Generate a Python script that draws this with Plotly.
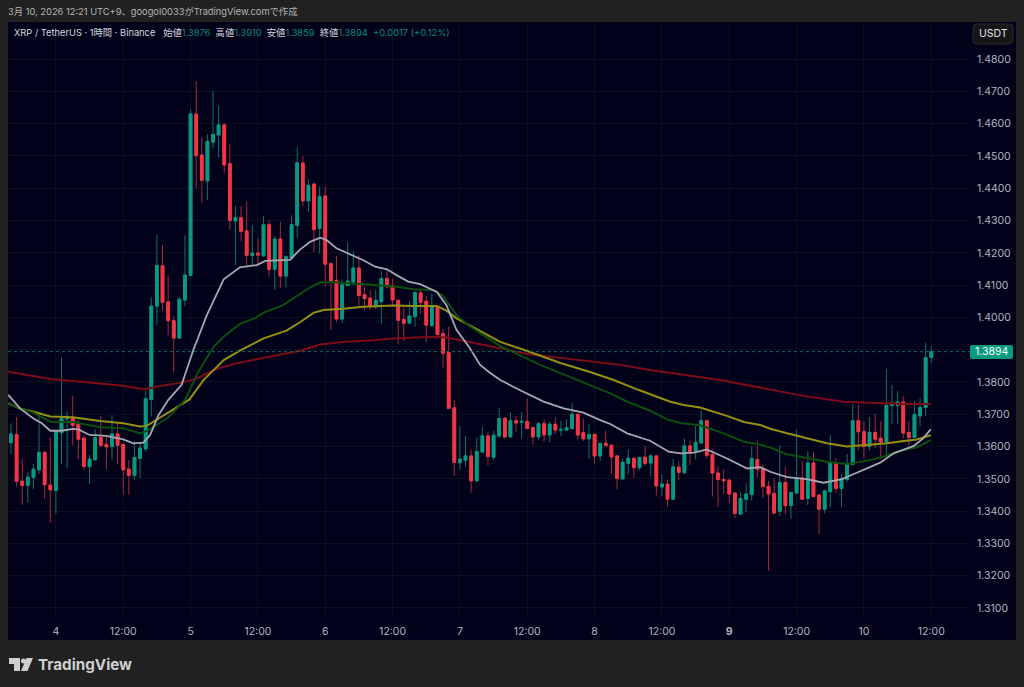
import pandas as pd
import plotly.graph_objects as go

opens = [1.3612, 1.3637, 1.3493, 1.3480, 1.3505, 1.3528, 1.3582, 1.3481, 1.3464, 1.3643,
         1.3686, 1.3691, 1.3670, 1.3626, 1.3538, 1.3559, 1.3628, 1.3607, 1.3600, 1.3639,
         1.3606, 1.3530, 1.3511, 1.3564, 1.3593, 1.3746, 1.4035, 1.4160, 1.4048, 1.3990,
         1.3936, 1.4054, 1.4130, 1.4630, 1.4503, 1.4423, 1.4543, 1.4565, 1.4596, 1.4476,
         1.4299, 1.4309, 1.4268, 1.4192, 1.4199, 1.4191, 1.4287, 1.4149, 1.4243, 1.4128,
         1.4183, 1.4285, 1.4478, 1.4361, 1.4413, 1.4276, 1.4376, 1.4167, 1.4115, 1.3995,
         1.4099, 1.4109, 1.4153, 1.4070, 1.4060, 1.4033, 1.4049, 1.4120, 1.4098, 1.4053,
         1.3994, 1.3983, 1.4003, 1.4076, 1.4050, 1.3975, 1.4031, 1.3950, 1.3891, 1.3720,
         1.3550, 1.3558, 1.3571, 1.3494, 1.3583, 1.3633, 1.3567, 1.3633, 1.3688, 1.3630,
         1.3680, 1.3675, 1.3678, 1.3659, 1.3630, 1.3671, 1.3636, 1.3669, 1.3651, 1.3651,
         1.3656, 1.3700, 1.3643, 1.3624, 1.3638, 1.3571, 1.3610, 1.3604, 1.3571, 1.3500,
         1.3548, 1.3564, 1.3535, 1.3567, 1.3549, 1.3571, 1.3475, 1.3484, 1.3437, 1.3536,
         1.3519, 1.3602, 1.3585, 1.3611, 1.3680, 1.3575, 1.3518, 1.3498, 1.3496, 1.3456,
         1.3391, 1.3437, 1.3451, 1.3560, 1.3533, 1.3477, 1.3455, 1.3400, 1.3489, 1.3417,
         1.3456, 1.3503, 1.3439, 1.3549, 1.3450, 1.3406, 1.3460, 1.3548, 1.3470, 1.3498,
         1.3545, 1.3680, 1.3646, 1.3600, 1.3644, 1.3626, 1.3614, 1.3727, 1.3728, 1.3738,
         1.3644, 1.3628, 1.3695, 1.3721, 1.3876]
closes = [1.3639, 1.3492, 1.3479, 1.3505, 1.3530, 1.3582, 1.3482, 1.3466, 1.3646, 1.3687,
          1.3691, 1.3666, 1.3623, 1.3538, 1.3561, 1.3628, 1.3604, 1.3599, 1.3639, 1.3604,
          1.3528, 1.3511, 1.3566, 1.3595, 1.3748, 1.4035, 1.4161, 1.4047, 1.3990, 1.3936,
          1.4056, 1.4131, 1.4630, 1.4501, 1.4425, 1.4545, 1.4567, 1.4596, 1.4472, 1.4300,
          1.4309, 1.4267, 1.4192, 1.4199, 1.4193, 1.4287, 1.4149, 1.4243, 1.4128, 1.4188,
          1.4287, 1.4479, 1.4361, 1.4409, 1.4272, 1.4374, 1.4165, 1.4112, 1.3995, 1.4101,
          1.4112, 1.4153, 1.4068, 1.4058, 1.4033, 1.4053, 1.4120, 1.4095, 1.4054, 1.3991,
          1.3982, 1.4004, 1.4077, 1.4047, 1.3976, 1.4033, 1.3947, 1.3889, 1.3718, 1.3551,
          1.3561, 1.3571, 1.3494, 1.3585, 1.3633, 1.3569, 1.3635, 1.3687, 1.3630, 1.3680,
          1.3673, 1.3678, 1.3656, 1.3630, 1.3671, 1.3636, 1.3669, 1.3651, 1.3653, 1.3658,
          1.3700, 1.3636, 1.3624, 1.3637, 1.3571, 1.3610, 1.3603, 1.3568, 1.3501, 1.3551,
          1.3564, 1.3535, 1.3566, 1.3548, 1.3571, 1.3478, 1.3484, 1.3437, 1.3537, 1.3520,
          1.3602, 1.3585, 1.3613, 1.3680, 1.3573, 1.3518, 1.3498, 1.3494, 1.3453, 1.3393,
          1.3439, 1.3453, 1.3563, 1.3530, 1.3476, 1.3453, 1.3394, 1.3489, 1.3417, 1.3458,
          1.3503, 1.3437, 1.3549, 1.3445, 1.3406, 1.3463, 1.3551, 1.3470, 1.3500, 1.3547,
          1.3680, 1.3646, 1.3600, 1.3644, 1.3623, 1.3614, 1.3728, 1.3733, 1.3738, 1.3642,
          1.3628, 1.3699, 1.3721, 1.3876, 1.3894]
highs = [1.3672, 1.3691, 1.3563, 1.3521, 1.3546, 1.3705, 1.3587, 1.3629, 1.3648, 1.3876,
         1.3709, 1.3757, 1.3682, 1.3633, 1.3574, 1.3653, 1.3695, 1.3631, 1.3697, 1.3676,
         1.3612, 1.3558, 1.3616, 1.3612, 1.3771, 1.4062, 1.4256, 1.4223, 1.4130, 1.4004,
         1.4064, 1.4254, 1.4644, 1.4732, 1.4558, 1.4567, 1.4701, 1.4656, 1.4603, 1.4537,
         1.4345, 1.4345, 1.4361, 1.4287, 1.4245, 1.4314, 1.4302, 1.4252, 1.4296, 1.4193,
         1.4316, 1.4527, 1.4500, 1.4428, 1.4417, 1.4405, 1.4405, 1.4169, 1.4190, 1.4118,
         1.4233, 1.4205, 1.4192, 1.4095, 1.4085, 1.4085, 1.4144, 1.4147, 1.4120, 1.4056,
         1.4031, 1.4050, 1.4083, 1.4085, 1.4066, 1.4074, 1.4035, 1.3963, 1.3971, 1.3744,
         1.3664, 1.3633, 1.3591, 1.3627, 1.3662, 1.3645, 1.3649, 1.3721, 1.3690, 1.3707,
         1.3695, 1.3707, 1.3749, 1.3662, 1.3677, 1.3684, 1.3677, 1.3692, 1.3680, 1.3685,
         1.3734, 1.3703, 1.3685, 1.3669, 1.3638, 1.3610, 1.3649, 1.3607, 1.3571, 1.3563,
         1.3591, 1.3564, 1.3569, 1.3602, 1.3577, 1.3573, 1.3515, 1.3498, 1.3562, 1.3553,
         1.3625, 1.3618, 1.3663, 1.3711, 1.3682, 1.3591, 1.3536, 1.3529, 1.3500, 1.3457,
         1.3459, 1.3486, 1.3600, 1.3618, 1.3544, 1.3494, 1.3502, 1.3604, 1.3538, 1.3458,
         1.3651, 1.3555, 1.3586, 1.3584, 1.3453, 1.3463, 1.3635, 1.3564, 1.3515, 1.3577,
         1.3731, 1.3731, 1.3679, 1.3691, 1.3701, 1.3680, 1.3840, 1.3791, 1.3773, 1.3755,
         1.3679, 1.3741, 1.3749, 1.3922, 1.3910]
lows = [1.3577, 1.3476, 1.3420, 1.3426, 1.3468, 1.3515, 1.3437, 1.3364, 1.3393, 1.3546,
        1.3532, 1.3604, 1.3561, 1.3528, 1.3484, 1.3556, 1.3598, 1.3530, 1.3558, 1.3544,
        1.3451, 1.3451, 1.3495, 1.3503, 1.3584, 1.3693, 1.3977, 1.4021, 1.3945, 1.3829,
        1.3934, 1.4035, 1.4128, 1.4400, 1.4355, 1.4364, 1.4523, 1.4496, 1.4448, 1.4271,
        1.4162, 1.4236, 1.4161, 1.4162, 1.4162, 1.4188, 1.4126, 1.4085, 1.4092, 1.4093,
        1.4178, 1.4247, 1.4345, 1.4327, 1.4203, 1.4198, 1.4097, 1.3961, 1.3987, 1.3983,
        1.4099, 1.4099, 1.4033, 1.4023, 1.4023, 1.4026, 1.3979, 1.4089, 1.4037, 1.3917,
        1.3927, 1.3979, 1.3971, 1.4012, 1.3922, 1.3971, 1.3935, 1.3845, 1.3716, 1.3509,
        1.3529, 1.3538, 1.3457, 1.3492, 1.3583, 1.3542, 1.3558, 1.3627, 1.3625, 1.3629,
        1.3645, 1.3625, 1.3655, 1.3606, 1.3620, 1.3615, 1.3613, 1.3639, 1.3633, 1.3649,
        1.3653, 1.3622, 1.3617, 1.3562, 1.3546, 1.3555, 1.3602, 1.3515, 1.3467, 1.3498,
        1.3515, 1.3503, 1.3527, 1.3540, 1.3507, 1.3449, 1.3447, 1.3414, 1.3435, 1.3496,
        1.3517, 1.3543, 1.3560, 1.3610, 1.3563, 1.3445, 1.3412, 1.3453, 1.3426, 1.3379,
        1.3389, 1.3397, 1.3432, 1.3505, 1.3441, 1.3216, 1.3391, 1.3385, 1.3391, 1.3375,
        1.3453, 1.3435, 1.3419, 1.3443, 1.3329, 1.3393, 1.3411, 1.3457, 1.3414, 1.3491,
        1.3543, 1.3589, 1.3563, 1.3589, 1.3595, 1.3561, 1.3569, 1.3670, 1.3670, 1.3625,
        1.3604, 1.3626, 1.3662, 1.3695, 1.3859]

# moving averages at the bar numbers given
white_bars = [-0.5, 1.6, 4, 5.5, 7, 9, 11.1, 12, 14, 17, 20, 21.8, 23.6, 24.8, 26.3, 28, 30.4, 32.5, 34.9, 37.9, 40.8,
              43.8, 45.3, 49.7, 51.5, 53.3, 55.1, 56.3, 58, 60.4, 62.8, 64.9, 67, 68.7, 70.8, 72.9, 75.9, 77.6, 79.4,
              81.7, 83.6, 85.4, 87.2, 90.1, 94.9, 98.5, 102, 105, 106.8, 109.8, 113.9, 117.2, 119.3, 121.7, 124, 127.6,
              131.2, 133.5, 135.3, 138.3, 141.8, 144.8, 148.1, 150.2, 154.9, 157.3, 160.9, 162.6, 163.9]
white_vals = [1.3760, 1.3718, 1.3687, 1.3672, 1.3649, 1.3649, 1.3655, 1.3653, 1.3636, 1.3633, 1.3622, 1.3610, 1.3612,
              1.3636, 1.3698, 1.3744, 1.3791, 1.3899, 1.4007, 1.4118, 1.4155, 1.4162, 1.4175, 1.4178, 1.4210, 1.4234,
              1.4247, 1.4239, 1.4214, 1.4196, 1.4177, 1.4157, 1.4149, 1.4131, 1.4111, 1.4103, 1.4079, 1.4038, 1.3961,
              1.3907, 1.3853, 1.3828, 1.3806, 1.3780, 1.3739, 1.3718, 1.3705, 1.3682, 1.3670, 1.3641, 1.3618, 1.3584,
              1.3579, 1.3581, 1.3591, 1.3563, 1.3532, 1.3536, 1.3522, 1.3505, 1.3499, 1.3488, 1.3499, 1.3515, 1.3550,
              1.3579, 1.3602, 1.3626, 1.3653]
green_bars = [-0.5, 4, 7, 11, 15.9, 20, 23, 24.5, 28, 31, 33.4, 36.1, 37.9, 40.8, 43.8, 45, 48.5, 51.5, 53, 55.1, 57.4,
              61, 65.2, 68.7, 71.7, 75.3, 77, 79.4, 81.7, 87.2, 94.3, 100.8, 106.8, 109.8, 113.9, 117.2, 119.6, 122.8,
              127, 130.6, 133, 135.3, 138.3, 141.2, 145.4, 149, 153.1, 155.5, 158.5, 161.4, 163.9]
green_vals = [1.3732, 1.3705, 1.3677, 1.3676, 1.3660, 1.3657, 1.3641, 1.3651, 1.3690, 1.3744, 1.3832, 1.3909, 1.3940,
              1.3980, 1.4000, 1.4015, 1.4038, 1.4072, 1.4090, 1.4108, 1.4110, 1.4105, 1.4100, 1.4095, 1.4087, 1.4085,
              1.4066, 1.4007, 1.3973, 1.3911, 1.3853, 1.3806, 1.3765, 1.3739, 1.3711, 1.3682, 1.3672, 1.3666, 1.3641,
              1.3615, 1.3608, 1.3597, 1.3576, 1.3567, 1.3553, 1.3546, 1.3558, 1.3569, 1.3587, 1.3598, 1.3620]
yellow_bars = [-0.5, 1.6, 4, 7, 11, 15.9, 20, 23, 24.2, 26, 28, 31.8, 34.3, 37.9, 40.8, 45, 49.1, 51.5, 53.9, 55.7, 59.2,
               62.8, 68.1, 71.7, 75.9, 77.6, 79.4, 81.7, 87.2, 92, 97.9, 103.2, 107.4, 111.9, 117.5, 119.9, 122.8, 127.6,
               130.6, 133.5, 135.3, 138.3, 141.8, 145.4, 149, 152.5, 156.1, 159.1, 161.4, 163.9]
yellow_vals = [1.3734, 1.3718, 1.3708, 1.3693, 1.3691, 1.3679, 1.3672, 1.3662, 1.3664, 1.3684, 1.3705, 1.3746, 1.3806,
               1.3868, 1.3897, 1.3935, 1.3959, 1.3985, 1.4014, 1.4023, 1.4027, 1.4033, 1.4037, 1.4035, 1.4035, 1.4021,
               1.3997, 1.3976, 1.3924, 1.3896, 1.3859, 1.3831, 1.3806, 1.3775, 1.3739, 1.3729, 1.3721, 1.3695, 1.3676,
               1.3667, 1.3655, 1.3641, 1.3626, 1.3610, 1.3600, 1.3605, 1.3610, 1.3617, 1.3622, 1.3635]
red_bars = [-0.5, 2.8, 7, 11, 15.9, 20, 23, 24.5, 26, 28, 30.4, 33.1, 36.4, 40.2, 43.8, 49.1, 51.5, 55.1, 59.8, 65.2,
            68.1, 75.3, 77.6, 81.7, 92, 108.6, 113.9, 126.4, 135.3, 141.2, 148.4, 154.9, 159.1, 163.9]
red_vals = [1.3832, 1.3822, 1.3809, 1.3803, 1.3794, 1.3788, 1.3779, 1.3779, 1.3786, 1.3791, 1.3798, 1.3811, 1.3839,
            1.3858, 1.3870, 1.3887, 1.3897, 1.3916, 1.3925, 1.3930, 1.3935, 1.3940, 1.3938, 1.3924, 1.3887, 1.3853,
            1.3837, 1.3806, 1.3777, 1.3757, 1.3739, 1.3734, 1.3732, 1.3732]

last_price = 1.3894
price_ticks = [1.31, 1.32, 1.33, 1.34, 1.35, 1.36, 1.37, 1.38, 1.39, 1.40, 1.41, 1.42, 1.43, 1.44, 1.45, 1.46, 1.47, 1.48]
time_ticks = ["2026-03-04 00:00", "2026-03-04 12:00", "2026-03-05 00:00", "2026-03-05 12:00", "2026-03-06 00:00",
              "2026-03-06 12:00", "2026-03-07 00:00", "2026-03-07 12:00", "2026-03-08 00:00", "2026-03-08 12:00",
              "2026-03-09 00:00", "2026-03-09 12:00", "2026-03-10 00:00", "2026-03-10 12:00"]
time_labels = ["4", "12:00", "5", "12:00", "6", "12:00", "7", "12:00", "8", "12:00", "<b>9</b>", "12:00", "10", "12:00"]

UP = "#089981"
DOWN = "#f23645"
BG = "#01021a"
PAGE = "#212121"
GRID = "#0c0e22"
FONT = "Inter, 'Noto Sans CJK JP', sans-serif"
W, H = 1024, 687
L, R, T, B = 8, 970, 22, 618

start = pd.Timestamp("2026-03-03 16:00")
times = [start + pd.Timedelta(hours=i) for i in range(len(opens))]


def bar_time(bars):
    return [start + pd.Timedelta(hours=b) for b in bars]


# paper coords from pixels, for the frame and logo
def px(x):
    return (x - L) / (R - L)


def py(y):
    return (B - y) / (B - T)


def path(points):
    return "M " + " L ".join(f"{px(x)} {py(y)}" for x, y in points) + " Z"


def pill(x0, y0, x1, y1, r):
    return (f"M {px(x0 + r)} {py(y0)} L {px(x1 - r)} {py(y0)} Q {px(x1)} {py(y0)} {px(x1)} {py(y0 + r)} "
            f"L {px(x1)} {py(y1 - r)} Q {px(x1)} {py(y1)} {px(x1 - r)} {py(y1)} L {px(x0 + r)} {py(y1)} "
            f"Q {px(x0)} {py(y1)} {px(x0)} {py(y1 - r)} L {px(x0)} {py(y0 + r)} Q {px(x0)} {py(y0)} {px(x0 + r)} {py(y0)} Z")


fig = go.Figure()
# wicks are dimmer than the bodies in the picture, so two candlestick traces
fig.add_trace(go.Candlestick(x=times, open=opens, high=highs, low=lows, close=closes, whiskerwidth=0,
                             increasing=dict(line=dict(color="#0b7566", width=1), fillcolor="#0b7566"),
                             decreasing=dict(line=dict(color="#a52a3c", width=1), fillcolor="#a52a3c")))
fig.add_trace(go.Candlestick(x=times, open=opens, close=closes,
                             high=[max(o, c) for o, c in zip(opens, closes)],
                             low=[min(o, c) for o, c in zip(opens, closes)],
                             whiskerwidth=0,
                             increasing=dict(line=dict(color=UP, width=1), fillcolor=UP),
                             decreasing=dict(line=dict(color=DOWN, width=1), fillcolor=DOWN)))
fig.add_trace(go.Scatter(x=bar_time(red_bars), y=red_vals, mode="lines", line=dict(color="#7f0b18", width=2)))
fig.add_trace(go.Scatter(x=bar_time(yellow_bars), y=yellow_vals, mode="lines", line=dict(color="#969010", width=2)))
fig.add_trace(go.Scatter(x=bar_time(green_bars), y=green_vals, mode="lines", line=dict(color="#0a4f0e", width=2)))
fig.add_trace(go.Scatter(x=bar_time(white_bars), y=white_vals, mode="lines", line=dict(color="#a6a7b2", width=1.8)))

fig.add_hline(y=last_price, line=dict(color="#0b6e62", width=1, dash="dot"))

shapes = [
    dict(type="rect", xref="paper", yref="paper", layer="below", x0=px(8), x1=px(1016), y0=py(640), y1=py(22),
         fillcolor=BG, line=dict(width=0)),
    dict(type="path", xref="paper", yref="paper", path=pill(973, 24, 1013, 44, 4), fillcolor="#151518",
         line=dict(color="#2c2c30", width=1)),
    dict(type="path", xref="paper", yref="paper", path=pill(970, 345, 1013, 359, 2), fillcolor=UP,
         line=dict(width=0)),
    # TradingView logo
    dict(type="path", xref="paper", yref="paper", path=path([(9, 658), (20, 658), (20, 671), (14, 671), (14, 664), (9, 664)]),
         fillcolor="#cfcfcf", line=dict(width=0)),
    dict(type="circle", xref="paper", yref="paper", x0=px(21), x1=px(26), y0=py(663.5), y1=py(658.5),
         fillcolor="#cfcfcf", line=dict(width=0)),
    dict(type="path", xref="paper", yref="paper", path=path([(26.5, 658), (33, 658), (27.5, 671), (21, 671)]),
         fillcolor="#cfcfcf", line=dict(width=0)),
]
for s in shapes:
    fig.add_shape(**s)

green_txt = "#0a8a76"
legend = ("<span style='color:#d6d8de'>XRP / TetherUS · 1時間 · Binance</span>"
          f"<span style='color:#d6d8de'>   始値</span><span style='color:{green_txt}'>1.3876</span>"
          f"<span style='color:#d6d8de'>  高値</span><span style='color:{green_txt}'>1.3910</span>"
          f"<span style='color:#d6d8de'>  安値</span><span style='color:{green_txt}'>1.3859</span>"
          f"<span style='color:#d6d8de'>  終値</span><span style='color:{green_txt}'>1.3894</span>"
          f"<span style='color:{green_txt}'>  +0.0017 (+0.12%)</span>")
notes = [
    dict(text="3月 10, 2026 12:21 UTC+9、googol0033がTradingView.comで作成", x=px(6), y=py(12), xanchor="left",
         font=dict(size=9.3, color="#b4b4b4", family=FONT)),
    dict(text=legend, x=px(12), y=py(33), xanchor="left", font=dict(size=9.3, color="#d6d8de", family=FONT)),
    dict(text="USDT", x=px(993), y=py(34), xanchor="center", font=dict(size=10.5, color="#e0e0e0", family=FONT)),
    dict(text="1.3894", x=px(991.5), y=py(352), xanchor="center", font=dict(size=10.5, color="#ffffff", family=FONT)),
    dict(text="<b>TradingView</b>", x=px(36), y=py(664.5), xanchor="left", font=dict(size=15.2, color="#cfcfcf", family=FONT)),
]
for n in notes:
    fig.add_annotation(xref="paper", yref="paper", showarrow=False, yanchor="middle", **n)

fig.update_layout(
    width=W, height=H, showlegend=False, hovermode=False, boxgap=0.3,
    margin=dict(l=L, r=W - R, t=T, b=H - B, autoexpand=False),
    paper_bgcolor=PAGE, plot_bgcolor=BG,
    font=dict(family=FONT, size=10.5, color="#b2b5be"),
)
fig.update_xaxes(type="date", rangeslider_visible=False, showline=False, zeroline=False,
                 range=[start + pd.Timedelta(hours=-0.535), start + pd.Timedelta(hours=170.9)],
                 tickmode="array", tickvals=time_ticks, ticktext=time_labels, tickangle=0,
                 gridcolor=GRID, gridwidth=1, ticks="", ticklabelstandoff=5)
fig.update_yaxes(side="right", range=[1.3069, 1.4915], showline=False, zeroline=False,
                 tickmode="array", tickvals=price_ticks,
                 ticktext=["" if p == 1.39 else f"{p:.4f}" for p in price_ticks],
                 gridcolor=GRID, gridwidth=1, ticks="", ticklabelstandoff=6)

fig.write_html("out.html", config=dict(displayModeBar=False),
               post_script=f"document.body.style.margin='0';document.body.style.background='{PAGE}';")
